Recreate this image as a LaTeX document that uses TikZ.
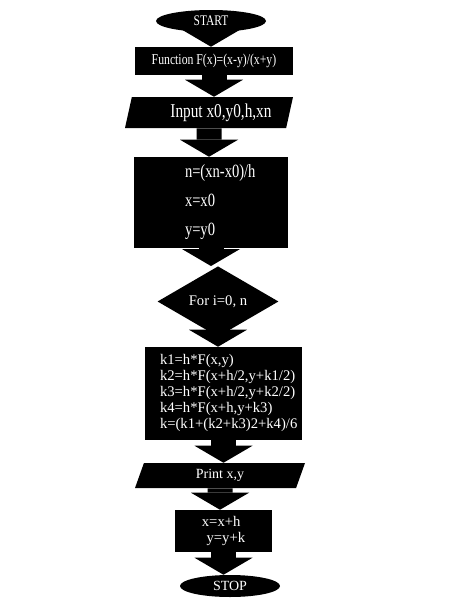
\documentclass[tikz,border=0pt]{standalone}
\usepackage{fontspec}
\setmainfont{Liberation Serif}
\usetikzlibrary{shapes.geometric, arrows.meta, backgrounds}

\tikzset{
    blk/.style={fill=black, text=white, inner sep=0pt},
    procbox/.style={blk, rectangle},
    termbox/.style={blk, ellipse},
    iobox/.style={blk, trapezium, trapezium stretches body},
    flowarrow/.style={line width=18.75pt, -{Triangle[length=12.75pt, width=43.5pt, line width=0pt]}}
}

\newcommand{\narrow}[1]{\scalebox{0.78}[1]{#1}}

\begin{document}
\begin{tikzpicture}[x=0.75pt, y=-0.75pt]
        \useasboundingbox (0, 0) rectangle (454, 600);

        \node[termbox, minimum width=82.5pt, minimum height=16.5pt, font=\fontsize{11}{13}\selectfont]
            (start) at (211, 21) {\narrow{START}};

        \node[procbox, minimum width=118.5pt, minimum height=21pt, font=\fontsize{11.3}{13}\selectfont]
            (func) at (214, 61) {\narrow{Function F(x)=(x-y)/(x+y)}};

        \node[iobox, trapezium left angle=69, trapezium right angle=111,
            minimum width=126pt, minimum height=23.25pt, font=\fontsize{14.7}{17}\selectfont]
            (input) at (209, 112.5) {\hspace*{18pt}\narrow{Input x0,y0,h,xn}};

        \node[procbox, minimum width=115.5pt, minimum height=68.25pt] (init) at (211, 202.5) {};
        \node[text=white, inner sep=0pt, anchor=west, font=\fontsize{14}{21.75}\selectfont]
            (inittext) at ([xshift=38.25pt, yshift=1pt]init.west)
            {\narrow{\begin{tabular}{@{}l@{}}n=(xn-x0)/h\\ x=x0\\ y=y0\end{tabular}}};

        \node[blk, diamond, minimum width=90.75pt, minimum height=42.75pt, font=\fontsize{11}{13}\selectfont]
            (loop) at (218, 301.5) {For i=0, n};

        \node[procbox, minimum width=117.75pt, minimum height=69.75pt] (rk) at (223.5, 393.5) {};
        \node[text=white, inner sep=0pt, anchor=west, font=\fontsize{11}{12}\selectfont]
            (rktext) at ([xshift=11.25pt]rk.west)
            {\begin{tabular}{@{}l@{}}k1=h*F(x,y)\\ k2=h*F(x+h/2,y+k1/2)\\ k3=h*F(x+h/2,y+k2/2)\\
            k4=h*F(x+h,y+k3)\\ k=(k1+(k2+k3)2+k4)/6\end{tabular}};

        \node[iobox, trapezium left angle=54, trapezium right angle=126,
            minimum width=127.5pt, minimum height=18.75pt, font=\fontsize{10.5}{12}\selectfont]
            (print) at (220, 475.5) {Print x,y};

        \node[procbox, minimum width=72.75pt, minimum height=31.5pt, align=left, font=\fontsize{11}{12}\selectfont]
            (update) at (223.5, 531) {x=x+h\\ \hspace*{3.5pt}y=y+k};

        \node[termbox, minimum width=75pt, minimum height=16.5pt, font=\fontsize{10.5}{12}\selectfont]
            (stop) at (230, 586) {STOP};

        \begin{scope}[on background layer]
            \draw[flowarrow] (start) -- (start |- func.north);
            \draw[flowarrow] (func) -- (func |- input.north);
            \draw[flowarrow] (input) -- (input |- init.north);
            \draw[flowarrow] (init) -- (init |- loop.north);
            \draw[flowarrow] (loop) -- (loop |- rk.north);
            \draw[flowarrow] (rk) -- (rk |- print.north);
            \draw[flowarrow] (print) -- (print |- update.north);
            \draw[flowarrow] (update) -- (update |- stop.north);
        \end{scope}
    \end{tikzpicture}
\end{document}
